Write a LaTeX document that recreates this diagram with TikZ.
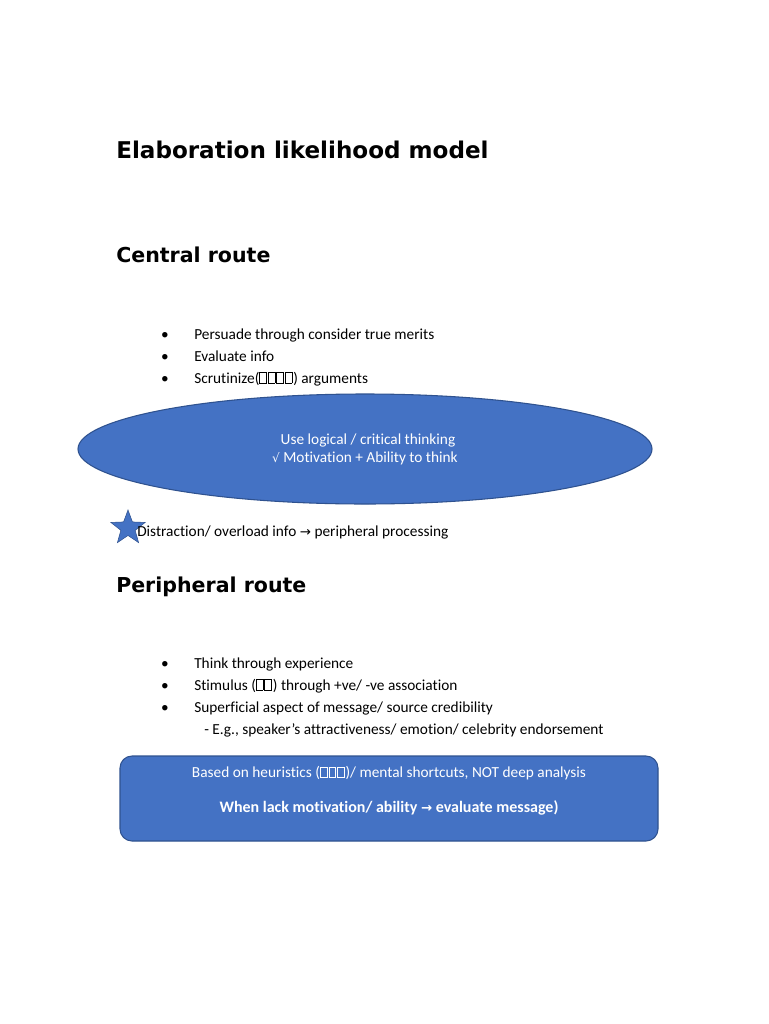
\documentclass[tikz,border=0pt]{standalone}
\usepackage{fontspec}
\setmainfont{Carlito}[Ligatures=NoCommon]
\newfontfamily\headfont{DejaVu Sans}
\newfontfamily\symfont{DejaVu Sans}
\usetikzlibrary{shapes.geometric}
\definecolor{fillblue}{HTML}{4472C4}
\definecolor{edgeblue}{HTML}{2F528F}
\newcommand{\tofu}{{\setlength\fboxsep{0pt}\setlength\fboxrule{0.3pt}\fbox{\rule{0pt}{0.68em}\hspace{0.42em}}\hspace{0.08em}}}
\newcommand{\arr}{{\symfont\fontsize{10}{12}\selectfont →}}
\begin{document}
\begin{tikzpicture}[x=0.75pt,y=-0.75pt,
  head/.style={anchor=base west,inner sep=0pt,font=\headfont\bfseries\fontsize{15.4}{18}\selectfont},
  body/.style={anchor=base west,inner sep=0pt,font=\fontsize{11.5}{13}\selectfont},
  bul/.style={anchor=base,inner sep=0pt,font=\fontsize{11.5}{13}\selectfont},
  wt/.style={text=white,font=\fontsize{11.5}{13}\selectfont}]
\useasboundingbox[fill=white] (0,0) rectangle (768,1024);
\node[head,font=\headfont\bfseries\fontsize{17.3}{20}\selectfont] (title) at (116,158) {Elaboration likelihood model};
\node[head] (central) at (116,262) {Central route};
\foreach \y/\t [count=\i] in {339/{Persuade through consider true merits},361/{Evaluate info},383/{Scrutinize(\tofu\tofu\tofu\tofu) arguments}}{
  \node[bul] (cb\i) at (165,\y) {•};
  \node[body] (ct\i) at (194,\y) {\t};}
\node[ellipse,draw=edgeblue,fill=fillblue,minimum width=430.5pt,minimum height=82.5pt,line width=0.8pt] (ell) at (365,449) {};
\node[wt] (e1) at (368,440) {Use logical / critical thinking};
\node[wt] (e2) at (365,458) {{\symfont\small √} Motivation + Ability to think};
\node[star,star points=5,star point ratio=2.4,draw=edgeblue,fill=fillblue,minimum size=27pt,inner sep=0pt] (star) at (128,528) {};
\node[body] (dist) at (137,536) {Distraction/ overload info \arr\ peripheral processing};
\node[head] (periph) at (116,592) {Peripheral route};
\foreach \y/\t [count=\i] in {668/{Think through experience},690/{Stimulus (\tofu\tofu) through +ve/ -ve association},712/{Superficial aspect of message/ source credibility}}{
  \node[bul] (pb\i) at (165,\y) {•};
  \node[body] (pt\i) at (194,\y) {\t};}
\node[body] (eg) at (204,734) {- E.g., speaker’s attractiveness/ emotion/ celebrity endorsement};
\node[draw=edgeblue,fill=fillblue,rounded corners=9pt,line width=0.8pt,minimum width=403.5pt,minimum height=63.75pt] (box) at (389,798.5) {};
\node[wt] (b1) at (389,773) {Based on heuristics (\tofu\tofu\tofu)/ mental shortcuts, NOT deep analysis};
\node[wt,font=\bfseries\fontsize{12}{14}\selectfont] (b2) at (389,808) {When lack motivation/ ability \arr\ evaluate message)};
\end{tikzpicture}
\end{document}
